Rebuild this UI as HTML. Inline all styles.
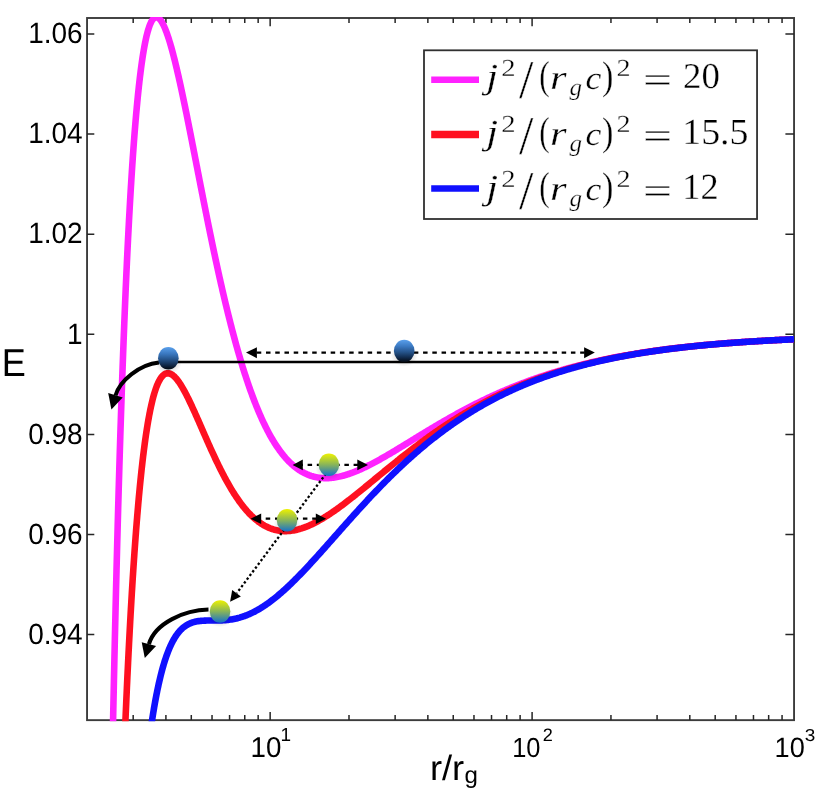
<!DOCTYPE html>
<html><head><meta charset="utf-8"><title>Effective potential</title>
<style>
html,body{margin:0;padding:0;background:#fff;}
svg{display:block;}
text{text-rendering:geometricPrecision;fill:#000;}
.lg{stroke:#fff;stroke-width:0.3px;}
</style></head><body>
<svg width="830" height="805" viewBox="0 0 830 805">
<defs>
<clipPath id="ax"><rect x="86.05" y="17.00" width="708.00" height="704.25"/></clipPath>
<linearGradient id="gb" x1="0" y1="0" x2="0" y2="1">
<stop offset="0" stop-color="#5aa0ec"/><stop offset="0.3" stop-color="#3a78c0"/><stop offset="0.55" stop-color="#25538a"/><stop offset="0.8" stop-color="#10294a"/><stop offset="1" stop-color="#03080f"/>
</linearGradient>
<linearGradient id="gg" x1="0" y1="0" x2="0" y2="1">
<stop offset="0" stop-color="#eef200"/><stop offset="0.5" stop-color="#88b45a"/><stop offset="1" stop-color="#1470cc"/>
</linearGradient>
<radialGradient id="sh" cx="0.5" cy="0.5" r="0.5">
<stop offset="0" stop-color="#000" stop-opacity="0.28"/><stop offset="1" stop-color="#000" stop-opacity="0"/>
</radialGradient>
</defs>
<rect width="830" height="805" fill="#fff"/>

<rect x="87.05" y="18.00" width="707.00" height="702.15" fill="none" stroke="#3c3c3c" stroke-width="1.9"/>
<path d="M133.18 720.1V715.1M133.18 18.0V23.0M165.91 720.1V715.1M165.91 18.0V23.0M191.29 720.1V715.1M191.29 18.0V23.0M212.03 720.1V715.1M212.03 18.0V23.0M229.57 720.1V715.1M229.57 18.0V23.0M244.76 720.1V715.1M244.76 18.0V23.0M258.16 720.1V715.1M258.16 18.0V23.0M349.00 720.1V715.1M349.00 18.0V23.0M395.13 720.1V715.1M395.13 18.0V23.0M427.86 720.1V715.1M427.86 18.0V23.0M453.24 720.1V715.1M453.24 18.0V23.0M473.98 720.1V715.1M473.98 18.0V23.0M491.52 720.1V715.1M491.52 18.0V23.0M506.71 720.1V715.1M506.71 18.0V23.0M520.11 720.1V715.1M520.11 18.0V23.0M610.95 720.1V715.1M610.95 18.0V23.0M657.08 720.1V715.1M657.08 18.0V23.0M689.81 720.1V715.1M689.81 18.0V23.0M715.19 720.1V715.1M715.19 18.0V23.0M735.94 720.1V715.1M735.94 18.0V23.0M753.47 720.1V715.1M753.47 18.0V23.0M768.66 720.1V715.1M768.66 18.0V23.0M782.06 720.1V715.1M782.06 18.0V23.0M270.15 720.1V711.9M270.15 18.0V26.2M532.10 720.1V711.9M532.10 18.0V26.2M87.0 634.60H94.3M794.0 634.60H785.4M87.0 534.50H94.3M794.0 534.50H785.4M87.0 434.40H94.3M794.0 434.40H785.4M87.0 334.30H94.3M794.0 334.30H785.4M87.0 234.20H94.3M794.0 234.20H785.4M87.0 134.10H94.3M794.0 134.10H785.4M87.0 34.00H94.3M794.0 34.00H785.4" stroke="#262626" stroke-width="1.5" fill="none"/>
<g clip-path="url(#ax)" fill="none" stroke-width="6.6" stroke-linejoin="round" stroke-linecap="butt">
<path d="M112.51 748.57 L112.74 736.93 L112.98 725.45 L113.21 714.12 L113.45 702.95 L113.69 691.92 L113.92 681.05 L114.16 670.32 L114.39 659.73 L114.63 649.29 L114.86 638.98 L115.10 628.82 L115.34 618.79 L115.57 608.89 L115.81 599.13 L116.04 589.50 L116.28 579.99 L116.51 570.62 L116.75 561.37 L116.99 552.24 L117.22 543.24 L117.46 534.36 L117.69 525.59 L117.93 516.95 L118.16 508.42 L118.40 500.01 L118.63 491.71 L118.87 483.52 L119.11 475.44 L119.34 467.48 L119.58 459.62 L119.81 451.86 L120.05 444.21 L120.28 436.67 L120.52 429.23 L120.76 421.89 L120.99 414.65 L121.23 407.51 L121.46 400.47 L121.70 393.52 L121.93 386.67 L122.17 379.92 L122.41 373.26 L122.64 366.69 L122.88 360.21 L123.11 353.82 L123.35 347.52 L123.58 341.31 L123.82 335.18 L124.06 329.14 L124.29 323.19 L124.53 317.32 L124.76 311.53 L125.00 305.82 L125.23 300.20 L125.47 294.66 L125.70 289.19 L125.94 283.80 L126.18 278.50 L126.41 273.26 L126.65 268.11 L126.88 263.02 L127.12 258.02 L127.35 253.08 L127.59 248.22 L127.83 243.43 L128.06 238.71 L128.30 234.06 L128.53 229.48 L128.77 224.96 L129.00 220.52 L129.24 216.14 L129.48 211.83 L129.71 207.58 L129.95 203.40 L130.18 199.28 L130.42 195.23 L130.65 191.24 L130.89 187.31 L131.13 183.44 L131.36 179.63 L131.60 175.88 L131.83 172.20 L132.07 168.57 L132.30 164.99 L132.54 161.48 L132.77 158.02 L133.01 154.62 L133.25 151.27 L133.48 147.98 L133.72 144.74 L133.95 141.56 L134.19 138.43 L134.42 135.35 L134.66 132.33 L134.90 129.35 L135.13 126.43 L135.37 123.56 L135.60 120.74 L135.84 117.96 L136.07 115.24 L136.31 112.56 L136.55 109.93 L136.78 107.35 L137.02 104.82 L137.25 102.33 L137.49 99.89 L137.72 97.49 L137.96 95.14 L138.19 92.83 L138.43 90.56 L138.67 88.34 L138.90 86.16 L139.14 84.03 L139.37 81.93 L139.61 79.88 L139.84 77.87 L140.08 75.90 L140.32 73.97 L140.55 72.08 L140.79 70.23 L141.02 68.41 L141.26 66.64 L141.49 64.91 L141.73 63.21 L141.97 61.55 L142.20 59.92 L142.44 58.34 L142.67 56.79 L142.91 55.27 L143.14 53.79 L143.38 52.35 L143.62 50.94 L143.85 49.56 L144.09 48.22 L144.32 46.91 L144.56 45.63 L144.79 44.39 L145.03 43.18 L145.26 42.00 L145.50 40.86 L145.74 39.74 L145.97 38.66 L146.21 37.61 L146.44 36.58 L146.68 35.59 L147.15 33.70 L147.62 31.92 L148.09 30.25 L148.56 28.70 L149.04 27.25 L149.51 25.92 L149.98 24.68 L150.45 23.55 L150.92 22.52 L151.39 21.59 L152.10 20.37 L152.81 19.36 L153.51 18.55 L154.46 17.77 L155.40 17.32 L156.58 17.20 L157.76 17.55 L158.70 18.14 L159.64 19.01 L160.35 19.82 L161.05 20.78 L161.76 21.87 L162.47 23.09 L163.18 24.43 L163.65 25.39 L164.12 26.40 L164.59 27.47 L165.06 28.58 L165.53 29.74 L166.00 30.95 L166.47 32.20 L166.95 33.50 L167.42 34.84 L167.89 36.23 L168.36 37.65 L168.83 39.12 L169.30 40.62 L169.77 42.16 L170.25 43.74 L170.72 45.35 L171.19 47.00 L171.66 48.68 L172.13 50.40 L172.60 52.14 L173.07 53.92 L173.54 55.72 L174.02 57.56 L174.49 59.42 L174.96 61.31 L175.43 63.23 L175.90 65.17 L176.14 66.15 L176.37 67.14 L176.61 68.13 L176.84 69.13 L177.08 70.13 L177.32 71.14 L177.55 72.16 L177.79 73.18 L178.02 74.20 L178.26 75.23 L178.49 76.27 L178.73 77.31 L178.96 78.36 L179.20 79.41 L179.44 80.46 L179.67 81.53 L179.91 82.59 L180.14 83.66 L180.38 84.73 L180.61 85.81 L180.85 86.90 L181.09 87.98 L181.32 89.07 L181.56 90.17 L181.79 91.27 L182.03 92.37 L182.26 93.48 L182.50 94.59 L182.74 95.70 L182.97 96.82 L183.21 97.94 L183.44 99.06 L183.68 100.19 L183.91 101.32 L184.15 102.46 L184.39 103.59 L184.62 104.73 L184.86 105.88 L185.09 107.02 L185.33 108.17 L185.56 109.32 L185.80 110.48 L186.03 111.63 L186.27 112.79 L186.51 113.95 L186.74 115.12 L186.98 116.28 L187.21 117.45 L187.45 118.62 L187.68 119.79 L187.92 120.97 L188.16 122.14 L188.39 123.32 L188.63 124.50 L188.86 125.68 L189.10 126.87 L189.33 128.05 L189.57 129.24 L189.81 130.43 L190.04 131.62 L190.28 132.81 L190.51 134.00 L190.75 135.20 L190.98 136.39 L191.22 137.59 L191.46 138.79 L191.69 139.98 L191.93 141.18 L192.16 142.38 L192.40 143.58 L192.63 144.79 L192.87 145.99 L193.10 147.19 L193.34 148.40 L193.58 149.60 L193.81 150.81 L194.05 152.02 L194.28 153.22 L194.52 154.43 L194.75 155.64 L194.99 156.84 L195.23 158.05 L195.46 159.26 L195.70 160.47 L195.93 161.68 L196.17 162.89 L196.40 164.10 L196.64 165.30 L196.88 166.51 L197.11 167.72 L197.35 168.93 L197.58 170.14 L197.82 171.35 L198.05 172.56 L198.29 173.76 L198.53 174.97 L198.76 176.18 L199.00 177.38 L199.23 178.59 L199.47 179.80 L199.70 181.00 L199.94 182.21 L200.17 183.41 L200.41 184.61 L200.65 185.82 L200.88 187.02 L201.12 188.22 L201.35 189.42 L201.59 190.62 L201.82 191.82 L202.06 193.02 L202.30 194.21 L202.53 195.41 L202.77 196.60 L203.00 197.80 L203.24 198.99 L203.47 200.18 L203.71 201.37 L203.95 202.56 L204.18 203.75 L204.42 204.94 L204.65 206.12 L204.89 207.31 L205.12 208.49 L205.36 209.67 L205.60 210.85 L205.83 212.03 L206.07 213.21 L206.30 214.38 L206.54 215.56 L206.77 216.73 L207.01 217.90 L207.24 219.07 L207.48 220.24 L207.72 221.41 L207.95 222.57 L208.19 223.74 L208.42 224.90 L208.66 226.06 L208.89 227.22 L209.13 228.37 L209.37 229.53 L209.60 230.68 L209.84 231.83 L210.07 232.98 L210.31 234.13 L210.54 235.27 L210.78 236.41 L211.02 237.55 L211.25 238.69 L211.49 239.83 L211.72 240.97 L211.96 242.10 L212.19 243.23 L212.43 244.36 L212.67 245.48 L212.90 246.61 L213.14 247.73 L213.37 248.85 L213.61 249.97 L213.84 251.09 L214.08 252.20 L214.31 253.31 L214.55 254.42 L214.79 255.53 L215.02 256.63 L215.26 257.73 L215.49 258.83 L215.73 259.93 L215.96 261.02 L216.20 262.12 L216.44 263.21 L216.67 264.29 L216.91 265.38 L217.14 266.46 L217.38 267.54 L217.61 268.62 L217.85 269.69 L218.09 270.77 L218.32 271.84 L218.56 272.90 L218.79 273.97 L219.03 275.03 L219.26 276.09 L219.50 277.15 L219.73 278.20 L219.97 279.26 L220.21 280.30 L220.44 281.35 L220.68 282.40 L220.91 283.44 L221.15 284.47 L221.38 285.51 L221.62 286.54 L221.86 287.57 L222.09 288.60 L222.33 289.63 L222.56 290.65 L222.80 291.67 L223.03 292.68 L223.27 293.70 L223.51 294.71 L223.74 295.72 L223.98 296.72 L224.21 297.73 L224.45 298.73 L224.68 299.72 L224.92 300.72 L225.16 301.71 L225.39 302.69 L225.63 303.68 L225.86 304.66 L226.10 305.64 L226.33 306.62 L226.57 307.59 L227.04 309.53 L227.51 311.46 L227.98 313.37 L228.45 315.28 L228.93 317.17 L229.40 319.05 L229.87 320.91 L230.34 322.77 L230.81 324.61 L231.28 326.44 L231.75 328.26 L232.23 330.07 L232.70 331.86 L233.17 333.64 L233.64 335.41 L234.11 337.17 L234.58 338.91 L235.05 340.65 L235.52 342.37 L236.00 344.07 L236.47 345.77 L236.94 347.45 L237.41 349.12 L237.88 350.78 L238.35 352.42 L238.82 354.06 L239.30 355.68 L239.77 357.29 L240.24 358.88 L240.71 360.46 L241.18 362.03 L241.65 363.59 L242.12 365.14 L242.59 366.67 L243.07 368.19 L243.54 369.70 L244.01 371.19 L244.48 372.68 L244.95 374.15 L245.42 375.61 L245.89 377.05 L246.37 378.49 L246.84 379.91 L247.31 381.32 L247.78 382.71 L248.25 384.10 L248.72 385.47 L249.19 386.83 L249.66 388.18 L250.14 389.51 L250.61 390.83 L251.08 392.14 L251.55 393.44 L252.02 394.73 L252.49 396.00 L252.96 397.27 L253.44 398.52 L253.91 399.76 L254.38 400.98 L254.85 402.20 L255.32 403.40 L255.79 404.59 L256.26 405.77 L256.73 406.94 L257.21 408.09 L257.68 409.24 L258.15 410.37 L258.62 411.49 L259.09 412.60 L259.56 413.70 L260.03 414.79 L260.50 415.86 L260.98 416.92 L261.45 417.98 L261.92 419.02 L262.39 420.05 L262.86 421.07 L263.33 422.07 L263.80 423.07 L264.28 424.06 L264.75 425.03 L265.22 425.99 L265.69 426.95 L266.16 427.89 L266.63 428.82 L267.10 429.74 L267.57 430.65 L268.05 431.55 L268.52 432.43 L269.22 433.75 L269.93 435.03 L270.64 436.30 L271.35 437.54 L272.05 438.76 L272.76 439.96 L273.47 441.13 L274.17 442.28 L274.88 443.41 L275.59 444.52 L276.29 445.60 L277.00 446.66 L277.71 447.71 L278.42 448.72 L279.12 449.72 L279.83 450.70 L280.54 451.66 L281.24 452.59 L281.95 453.51 L282.66 454.41 L283.36 455.28 L284.07 456.14 L284.78 456.97 L285.49 457.79 L286.19 458.59 L286.90 459.37 L287.61 460.12 L288.31 460.87 L289.02 461.59 L289.96 462.52 L290.91 463.42 L291.85 464.29 L292.79 465.13 L293.73 465.94 L294.68 466.72 L295.62 467.47 L296.56 468.19 L297.50 468.88 L298.45 469.54 L299.39 470.17 L300.33 470.78 L301.27 471.36 L302.22 471.91 L303.16 472.43 L304.10 472.93 L305.05 473.40 L305.99 473.85 L306.93 474.28 L307.87 474.67 L308.82 475.05 L309.76 475.40 L310.94 475.81 L312.12 476.18 L313.29 476.52 L314.47 476.82 L315.65 477.09 L316.83 477.33 L318.01 477.54 L319.19 477.71 L320.36 477.86 L321.54 477.97 L322.72 478.06 L323.90 478.12 L325.08 478.15 L326.26 478.16 L327.43 478.14 L328.61 478.09 L329.79 478.02 L330.97 477.93 L332.15 477.81 L333.33 477.67 L334.50 477.50 L335.68 477.32 L336.86 477.11 L338.04 476.88 L339.22 476.64 L340.40 476.37 L341.57 476.08 L342.75 475.78 L343.93 475.46 L345.11 475.12 L346.29 474.76 L347.47 474.39 L348.64 474.00 L349.82 473.60 L351.00 473.18 L351.94 472.84 L352.89 472.49 L353.83 472.12 L354.77 471.75 L355.71 471.37 L356.66 470.99 L357.60 470.59 L358.54 470.19 L359.48 469.78 L360.43 469.36 L361.37 468.94 L362.31 468.51 L363.25 468.07 L364.20 467.63 L365.14 467.18 L366.08 466.72 L367.03 466.26 L367.97 465.79 L368.91 465.32 L369.85 464.84 L370.80 464.35 L371.74 463.87 L372.68 463.37 L373.62 462.87 L374.57 462.37 L375.51 461.86 L376.45 461.35 L377.39 460.84 L378.34 460.32 L379.28 459.80 L380.22 459.27 L381.17 458.74 L382.11 458.21 L383.05 457.67 L383.99 457.13 L384.94 456.59 L385.88 456.05 L386.82 455.50 L387.76 454.95 L388.71 454.40 L389.65 453.84 L390.59 453.29 L391.53 452.73 L392.48 452.17 L393.42 451.60 L394.36 451.04 L395.31 450.47 L396.25 449.91 L397.19 449.34 L398.13 448.77 L399.08 448.20 L400.02 447.63 L400.96 447.05 L401.90 446.48 L402.85 445.90 L403.79 445.33 L404.73 444.75 L405.67 444.18 L406.62 443.60 L407.56 443.02 L408.50 442.44 L409.45 441.87 L410.39 441.29 L411.33 440.71 L412.27 440.13 L413.22 439.55 L414.16 438.98 L415.10 438.40 L416.04 437.82 L416.99 437.24 L417.93 436.67 L418.87 436.09 L419.81 435.52 L420.76 434.94 L421.70 434.37 L422.64 433.79 L423.58 433.22 L424.53 432.65 L425.47 432.08 L426.41 431.51 L427.36 430.94 L428.30 430.37 L429.24 429.80 L430.18 429.24 L431.13 428.67 L432.07 428.11 L433.01 427.54 L433.95 426.98 L434.90 426.42 L435.84 425.87 L436.78 425.31 L437.72 424.75 L438.67 424.20 L439.61 423.65 L440.55 423.10 L441.50 422.55 L442.44 422.00 L443.38 421.45 L444.32 420.91 L445.27 420.36 L446.21 419.82 L447.15 419.28 L448.09 418.75 L449.04 418.21 L449.98 417.68 L450.92 417.15 L451.86 416.62 L452.81 416.09 L453.75 415.56 L454.69 415.04 L455.64 414.52 L456.58 414.00 L457.52 413.48 L458.46 412.96 L459.41 412.45 L460.35 411.94 L461.29 411.43 L462.23 410.92 L463.18 410.41 L464.12 409.91 L465.06 409.41 L466.00 408.91 L466.95 408.41 L467.89 407.92 L468.83 407.43 L469.78 406.94 L470.72 406.45 L471.66 405.96 L472.60 405.48 L473.55 405.00 L474.49 404.52 L475.43 404.04 L476.37 403.57 L477.32 403.09 L478.26 402.62 L479.20 402.16 L480.14 401.69 L481.09 401.23 L482.03 400.77 L482.97 400.31 L483.92 399.85 L484.86 399.40 L485.80 398.95 L486.74 398.50 L487.69 398.05 L488.63 397.61 L489.57 397.17 L490.51 396.73 L491.46 396.29 L492.40 395.86 L493.34 395.42 L494.28 394.99 L495.23 394.57 L496.17 394.14 L497.11 393.72 L498.06 393.30 L499.00 392.88 L499.94 392.46 L500.88 392.05 L501.83 391.64 L502.77 391.23 L503.71 390.82 L504.65 390.42 L505.60 390.02 L506.54 389.62 L507.48 389.22 L508.42 388.82 L509.37 388.43 L510.31 388.04 L511.25 387.65 L512.19 387.27 L513.14 386.88 L514.08 386.50 L515.02 386.12 L515.97 385.75 L516.91 385.37 L517.85 385.00 L518.79 384.63 L519.74 384.26 L520.68 383.90 L521.62 383.54 L522.56 383.17 L523.51 382.82 L524.45 382.46 L525.39 382.11 L526.33 381.75 L527.28 381.40 L528.22 381.06 L529.16 380.71 L530.11 380.37 L531.05 380.03 L531.99 379.69 L532.93 379.35 L533.88 379.02 L535.05 378.60 L536.23 378.19 L537.41 377.78 L538.59 377.38 L539.77 376.98 L540.95 376.58 L542.12 376.18 L543.30 375.79 L544.48 375.40 L545.66 375.02 L546.84 374.64 L548.02 374.26 L549.19 373.88 L550.37 373.51 L551.55 373.14 L552.73 372.77 L553.91 372.41 L555.09 372.05 L556.26 371.69 L557.44 371.34 L558.62 370.99 L559.80 370.64 L560.98 370.29 L562.16 369.95 L563.33 369.61 L564.51 369.28 L565.69 368.94 L566.87 368.61 L568.05 368.28 L569.23 367.96 L570.40 367.64 L571.58 367.32 L572.76 367.00 L573.94 366.69 L575.12 366.38 L576.30 366.07 L577.47 365.76 L578.65 365.46 L579.83 365.16 L581.01 364.86 L582.19 364.57 L583.37 364.28 L584.54 363.99 L585.72 363.70 L586.90 363.42 L588.08 363.13 L589.26 362.85 L590.44 362.58 L591.61 362.30 L592.79 362.03 L593.97 361.76 L595.15 361.50 L596.33 361.23 L597.51 360.97 L598.68 360.71 L599.86 360.45 L601.04 360.20 L602.22 359.94 L603.40 359.69 L604.58 359.45 L605.75 359.20 L606.93 358.96 L608.11 358.72 L609.29 358.48 L610.47 358.24 L611.65 358.01 L612.82 357.77 L614.00 357.54 L615.18 357.31 L616.36 357.09 L617.54 356.86 L618.72 356.64 L619.89 356.42 L621.07 356.21 L622.25 355.99 L623.43 355.78 L624.61 355.56 L625.79 355.35 L626.96 355.15 L628.14 354.94 L629.32 354.74 L630.50 354.54 L631.68 354.34 L632.86 354.14 L634.03 353.94 L635.21 353.75 L636.39 353.55 L637.57 353.36 L638.75 353.17 L639.93 352.99 L641.10 352.80 L642.28 352.62 L643.46 352.44 L644.64 352.26 L645.82 352.08 L647.00 351.90 L648.17 351.73 L649.35 351.55 L650.53 351.38 L651.71 351.21 L652.89 351.04 L654.07 350.88 L655.24 350.71 L656.42 350.55 L657.60 350.39 L658.78 350.23 L659.96 350.07 L661.14 349.91 L662.31 349.75 L663.49 349.60 L664.67 349.45 L665.85 349.29 L667.03 349.14 L668.21 349.00 L669.38 348.85 L670.56 348.70 L671.74 348.56 L672.92 348.42 L674.10 348.28 L675.27 348.14 L676.45 348.00 L677.63 347.86 L678.81 347.72 L679.99 347.59 L681.17 347.46 L682.34 347.32 L683.52 347.19 L684.70 347.06 L685.88 346.93 L687.06 346.81 L688.24 346.68 L689.41 346.56 L690.59 346.43 L691.77 346.31 L692.95 346.19 L694.13 346.07 L695.31 345.95 L696.48 345.84 L697.66 345.72 L698.84 345.60 L700.02 345.49 L701.20 345.38 L702.38 345.27 L703.55 345.16 L704.73 345.05 L705.91 344.94 L707.09 344.83 L708.27 344.72 L709.45 344.62 L710.62 344.51 L711.80 344.41 L712.98 344.31 L714.16 344.21 L715.34 344.11 L716.52 344.01 L717.69 343.91 L718.87 343.81 L720.05 343.72 L721.23 343.62 L722.41 343.53 L723.59 343.43 L724.76 343.34 L725.94 343.25 L727.12 343.16 L728.30 343.07 L729.48 342.98 L730.66 342.89 L731.83 342.81 L733.01 342.72 L734.19 342.63 L735.37 342.55 L736.55 342.47 L737.73 342.38 L738.90 342.30 L740.08 342.22 L741.26 342.14 L742.44 342.06 L743.62 341.98 L744.80 341.90 L745.97 341.83 L747.15 341.75 L748.33 341.67 L749.51 341.60 L750.69 341.53 L751.87 341.45 L753.04 341.38 L754.22 341.31 L755.40 341.24 L756.58 341.17 L757.76 341.10 L758.94 341.03 L760.11 340.96 L761.29 340.89 L762.47 340.82 L763.65 340.76 L764.83 340.69 L766.01 340.63 L767.18 340.56 L768.36 340.50 L769.54 340.44 L770.72 340.37 L771.90 340.31 L773.08 340.25 L774.25 340.19 L775.43 340.13 L776.61 340.07 L777.79 340.01 L778.97 339.95 L780.15 339.90 L781.32 339.84 L782.50 339.78 L783.68 339.73 L784.86 339.67 L786.04 339.62 L787.22 339.56 L788.39 339.51 L789.57 339.45 L790.75 339.40 L791.93 339.35 L793.11 339.30 L794.05 339.26" stroke="#ff22ff"/>
<path d="M124.29 748.71 L124.53 742.82 L124.76 737.01 L125.00 731.27 L125.23 725.60 L125.47 720.01 L125.70 714.48 L125.94 709.03 L126.18 703.64 L126.41 698.32 L126.65 693.07 L126.88 687.89 L127.12 682.77 L127.35 677.72 L127.59 672.73 L127.83 667.80 L128.06 662.94 L128.30 658.14 L128.53 653.40 L128.77 648.72 L129.00 644.11 L129.24 639.55 L129.48 635.05 L129.71 630.61 L129.95 626.23 L130.18 621.90 L130.42 617.63 L130.65 613.42 L130.89 609.26 L131.13 605.16 L131.36 601.11 L131.60 597.11 L131.83 593.17 L132.07 589.28 L132.30 585.44 L132.54 581.65 L132.77 577.91 L133.01 574.23 L133.25 570.59 L133.48 567.00 L133.72 563.46 L133.95 559.96 L134.19 556.52 L134.42 553.12 L134.66 549.77 L134.90 546.46 L135.13 543.20 L135.37 539.98 L135.60 536.81 L135.84 533.68 L136.07 530.60 L136.31 527.56 L136.55 524.56 L136.78 521.60 L137.02 518.69 L137.25 515.82 L137.49 512.98 L137.72 510.19 L137.96 507.44 L138.19 504.72 L138.43 502.05 L138.67 499.42 L138.90 496.82 L139.14 494.26 L139.37 491.74 L139.61 489.25 L139.84 486.81 L140.08 484.40 L140.32 482.02 L140.55 479.68 L140.79 477.38 L141.02 475.11 L141.26 472.87 L141.49 470.67 L141.73 468.50 L141.97 466.37 L142.20 464.27 L142.44 462.20 L142.67 460.16 L142.91 458.16 L143.14 456.19 L143.38 454.25 L143.62 452.34 L143.85 450.46 L144.09 448.61 L144.32 446.79 L144.56 445.00 L144.79 443.24 L145.03 441.51 L145.26 439.80 L145.50 438.13 L145.74 436.49 L145.97 434.87 L146.21 433.28 L146.44 431.72 L146.68 430.18 L146.91 428.67 L147.15 427.19 L147.39 425.73 L147.62 424.30 L147.86 422.90 L148.09 421.52 L148.33 420.16 L148.56 418.83 L148.80 417.53 L149.04 416.24 L149.27 414.99 L149.51 413.75 L149.74 412.54 L149.98 411.36 L150.21 410.19 L150.45 409.05 L150.69 407.94 L150.92 406.84 L151.16 405.77 L151.39 404.71 L151.63 403.68 L151.86 402.67 L152.10 401.68 L152.57 399.77 L153.04 397.94 L153.51 396.19 L153.98 394.51 L154.46 392.91 L154.93 391.39 L155.40 389.94 L155.87 388.56 L156.34 387.25 L156.81 386.01 L157.28 384.84 L157.76 383.73 L158.23 382.69 L158.70 381.71 L159.17 380.79 L159.88 379.52 L160.58 378.38 L161.29 377.37 L162.00 376.48 L162.70 375.70 L163.65 374.85 L164.59 374.18 L165.53 373.70 L166.71 373.34 L167.89 373.23 L169.07 373.37 L170.25 373.73 L171.19 374.17 L172.13 374.74 L173.07 375.43 L174.02 376.23 L174.96 377.14 L175.67 377.90 L176.37 378.70 L177.08 379.56 L177.79 380.48 L178.49 381.43 L179.20 382.44 L179.91 383.49 L180.61 384.58 L181.32 385.71 L182.03 386.88 L182.74 388.08 L183.44 389.32 L184.15 390.59 L184.86 391.89 L185.33 392.78 L185.80 393.67 L186.27 394.58 L186.74 395.50 L187.21 396.43 L187.68 397.37 L188.16 398.32 L188.63 399.28 L189.10 400.25 L189.57 401.23 L190.04 402.22 L190.51 403.21 L190.98 404.21 L191.46 405.22 L191.93 406.23 L192.40 407.26 L192.87 408.28 L193.34 409.32 L193.81 410.35 L194.28 411.40 L194.75 412.45 L195.23 413.50 L195.70 414.55 L196.17 415.61 L196.64 416.68 L197.11 417.74 L197.58 418.81 L198.05 419.88 L198.53 420.95 L199.00 422.03 L199.47 423.10 L199.94 424.18 L200.41 425.26 L200.88 426.34 L201.35 427.42 L201.82 428.50 L202.30 429.58 L202.77 430.66 L203.24 431.74 L203.71 432.82 L204.18 433.89 L204.65 434.97 L205.12 436.05 L205.60 437.12 L206.07 438.19 L206.54 439.26 L207.01 440.33 L207.48 441.39 L207.95 442.46 L208.42 443.52 L208.89 444.57 L209.37 445.63 L209.84 446.68 L210.31 447.73 L210.78 448.77 L211.25 449.81 L211.72 450.85 L212.19 451.88 L212.67 452.91 L213.14 453.93 L213.61 454.95 L214.08 455.97 L214.55 456.98 L215.02 457.99 L215.49 458.99 L215.96 459.98 L216.44 460.98 L216.91 461.96 L217.38 462.94 L217.85 463.92 L218.32 464.89 L218.79 465.85 L219.26 466.81 L219.73 467.76 L220.21 468.71 L220.68 469.65 L221.15 470.58 L221.62 471.51 L222.09 472.43 L222.56 473.35 L223.03 474.26 L223.51 475.16 L223.98 476.06 L224.45 476.95 L224.92 477.83 L225.63 479.14 L226.33 480.44 L227.04 481.72 L227.75 482.98 L228.45 484.23 L229.16 485.47 L229.87 486.68 L230.58 487.88 L231.28 489.07 L231.99 490.24 L232.70 491.39 L233.40 492.52 L234.11 493.64 L234.82 494.74 L235.52 495.82 L236.23 496.89 L236.94 497.94 L237.65 498.97 L238.35 499.99 L239.06 500.98 L239.77 501.96 L240.47 502.93 L241.18 503.87 L241.89 504.80 L242.59 505.71 L243.30 506.61 L244.01 507.48 L244.72 508.34 L245.42 509.19 L246.13 510.01 L246.84 510.82 L247.54 511.61 L248.25 512.38 L248.96 513.14 L249.66 513.88 L250.37 514.60 L251.31 515.54 L252.26 516.44 L253.20 517.32 L254.14 518.17 L255.08 518.99 L256.03 519.78 L256.97 520.53 L257.91 521.27 L258.86 521.97 L259.80 522.64 L260.74 523.29 L261.68 523.91 L262.63 524.50 L263.57 525.06 L264.51 525.60 L265.45 526.10 L266.40 526.59 L267.34 527.04 L268.28 527.47 L269.22 527.88 L270.17 528.26 L271.11 528.61 L272.29 529.02 L273.47 529.39 L274.64 529.72 L275.82 530.01 L277.00 530.27 L278.18 530.49 L279.36 530.68 L280.54 530.83 L281.71 530.95 L282.89 531.03 L284.07 531.08 L285.25 531.10 L286.43 531.09 L287.61 531.05 L288.78 530.97 L289.96 530.87 L291.14 530.74 L292.32 530.58 L293.50 530.39 L294.68 530.17 L295.85 529.93 L297.03 529.66 L298.21 529.37 L299.39 529.05 L300.57 528.70 L301.75 528.34 L302.92 527.95 L304.10 527.53 L305.05 527.19 L305.99 526.83 L306.93 526.45 L307.87 526.07 L308.82 525.67 L309.76 525.26 L310.70 524.83 L311.64 524.39 L312.59 523.94 L313.53 523.48 L314.47 523.01 L315.41 522.53 L316.36 522.04 L317.30 521.53 L318.24 521.02 L319.19 520.49 L320.13 519.96 L321.07 519.42 L322.01 518.86 L322.96 518.30 L323.90 517.73 L324.84 517.15 L325.78 516.56 L326.73 515.97 L327.67 515.36 L328.61 514.75 L329.55 514.13 L330.50 513.50 L331.44 512.87 L332.38 512.23 L333.33 511.58 L334.27 510.93 L335.21 510.27 L336.15 509.60 L337.10 508.93 L338.04 508.25 L338.98 507.57 L339.92 506.88 L340.87 506.19 L341.81 505.49 L342.75 504.79 L343.69 504.08 L344.64 503.37 L345.58 502.65 L346.52 501.93 L347.47 501.21 L348.41 500.48 L349.35 499.75 L350.29 499.01 L351.24 498.27 L352.18 497.53 L353.12 496.79 L354.06 496.04 L355.01 495.29 L355.95 494.54 L356.89 493.79 L357.83 493.03 L358.78 492.27 L359.72 491.51 L360.66 490.75 L361.61 489.98 L362.55 489.22 L363.49 488.45 L364.43 487.68 L365.38 486.91 L366.32 486.14 L367.26 485.37 L368.20 484.59 L369.15 483.82 L370.09 483.05 L371.03 482.27 L371.97 481.50 L372.92 480.72 L373.86 479.94 L374.80 479.17 L375.75 478.39 L376.69 477.62 L377.63 476.84 L378.57 476.06 L379.52 475.29 L380.46 474.51 L381.40 473.74 L382.34 472.96 L383.29 472.19 L384.23 471.42 L385.17 470.64 L386.11 469.87 L387.06 469.10 L388.00 468.33 L388.94 467.56 L389.88 466.80 L390.83 466.03 L391.77 465.27 L392.71 464.50 L393.66 463.74 L394.60 462.98 L395.54 462.22 L396.48 461.46 L397.43 460.71 L398.37 459.95 L399.31 459.20 L400.25 458.45 L401.20 457.70 L402.14 456.95 L403.08 456.21 L404.02 455.46 L404.97 454.72 L405.91 453.99 L406.85 453.25 L407.80 452.51 L408.74 451.78 L409.68 451.05 L410.62 450.32 L411.57 449.60 L412.51 448.87 L413.45 448.15 L414.39 447.43 L415.34 446.72 L416.28 446.01 L417.22 445.29 L418.16 444.59 L419.11 443.88 L420.05 443.18 L420.99 442.48 L421.94 441.78 L422.88 441.08 L423.82 440.39 L424.76 439.70 L425.71 439.01 L426.65 438.33 L427.59 437.65 L428.53 436.97 L429.48 436.29 L430.42 435.62 L431.36 434.95 L432.30 434.28 L433.25 433.62 L434.19 432.96 L435.13 432.30 L436.08 431.65 L437.02 430.99 L437.96 430.34 L438.90 429.70 L439.85 429.05 L440.79 428.41 L441.73 427.78 L442.67 427.14 L443.62 426.51 L444.56 425.88 L445.50 425.26 L446.44 424.64 L447.39 424.02 L448.33 423.40 L449.27 422.79 L450.22 422.18 L451.16 421.57 L452.10 420.97 L453.04 420.37 L453.99 419.77 L454.93 419.18 L455.87 418.59 L456.81 418.00 L457.76 417.42 L458.70 416.83 L459.64 416.26 L460.58 415.68 L461.53 415.11 L462.47 414.54 L463.41 413.97 L464.35 413.41 L465.30 412.85 L466.24 412.29 L467.18 411.74 L468.13 411.19 L469.07 410.64 L470.01 410.10 L470.95 409.56 L471.90 409.02 L472.84 408.49 L473.78 407.96 L474.72 407.43 L475.67 406.90 L476.61 406.38 L477.55 405.86 L478.49 405.34 L479.44 404.83 L480.38 404.32 L481.32 403.81 L482.27 403.31 L483.21 402.81 L484.15 402.31 L485.09 401.82 L486.04 401.32 L486.98 400.84 L487.92 400.35 L488.86 399.87 L489.81 399.39 L490.75 398.91 L491.69 398.44 L492.63 397.97 L493.58 397.50 L494.52 397.03 L495.46 396.57 L496.41 396.11 L497.35 395.65 L498.29 395.20 L499.23 394.75 L500.18 394.30 L501.12 393.86 L502.06 393.42 L503.00 392.98 L503.95 392.54 L504.89 392.11 L505.83 391.68 L506.77 391.25 L507.72 390.82 L508.66 390.40 L509.60 389.98 L510.55 389.57 L511.49 389.15 L512.43 388.74 L513.37 388.33 L514.32 387.93 L515.26 387.52 L516.20 387.12 L517.14 386.73 L518.09 386.33 L519.03 385.94 L519.97 385.55 L520.91 385.16 L521.86 384.78 L522.80 384.39 L523.74 384.02 L524.69 383.64 L525.63 383.26 L526.57 382.89 L527.51 382.52 L528.46 382.16 L529.40 381.79 L530.34 381.43 L531.28 381.07 L532.23 380.72 L533.17 380.36 L534.11 380.01 L535.05 379.66 L536.00 379.31 L536.94 378.97 L537.88 378.63 L538.83 378.29 L539.77 377.95 L540.71 377.62 L541.89 377.20 L543.07 376.79 L544.25 376.38 L545.42 375.98 L546.60 375.58 L547.78 375.18 L548.96 374.79 L550.14 374.40 L551.32 374.01 L552.49 373.63 L553.67 373.25 L554.85 372.87 L556.03 372.50 L557.21 372.13 L558.39 371.76 L559.56 371.40 L560.74 371.04 L561.92 370.68 L563.10 370.33 L564.28 369.98 L565.46 369.63 L566.63 369.29 L567.81 368.95 L568.99 368.61 L570.17 368.27 L571.35 367.94 L572.53 367.61 L573.70 367.29 L574.88 366.97 L576.06 366.65 L577.24 366.33 L578.42 366.02 L579.60 365.71 L580.77 365.40 L581.95 365.09 L583.13 364.79 L584.31 364.49 L585.49 364.19 L586.67 363.90 L587.84 363.61 L589.02 363.32 L590.20 363.04 L591.38 362.75 L592.56 362.47 L593.73 362.19 L594.91 361.92 L596.09 361.65 L597.27 361.38 L598.45 361.11 L599.63 360.84 L600.80 360.58 L601.98 360.32 L603.16 360.07 L604.34 359.81 L605.52 359.56 L606.70 359.31 L607.87 359.06 L609.05 358.81 L610.23 358.57 L611.41 358.33 L612.59 358.09 L613.77 357.86 L614.94 357.62 L616.12 357.39 L617.30 357.16 L618.48 356.93 L619.66 356.71 L620.84 356.48 L622.01 356.26 L623.19 356.04 L624.37 355.83 L625.55 355.61 L626.73 355.40 L627.91 355.19 L629.08 354.98 L630.26 354.78 L631.44 354.57 L632.62 354.37 L633.80 354.17 L634.98 353.97 L636.15 353.77 L637.33 353.58 L638.51 353.39 L639.69 353.19 L640.87 353.00 L642.05 352.82 L643.22 352.63 L644.40 352.45 L645.58 352.27 L646.76 352.09 L647.94 351.91 L649.12 351.73 L650.29 351.56 L651.47 351.38 L652.65 351.21 L653.83 351.04 L655.01 350.87 L656.19 350.71 L657.36 350.54 L658.54 350.38 L659.72 350.22 L660.90 350.06 L662.08 349.90 L663.26 349.74 L664.43 349.59 L665.61 349.43 L666.79 349.28 L667.97 349.13 L669.15 348.98 L670.33 348.83 L671.50 348.68 L672.68 348.54 L673.86 348.40 L675.04 348.25 L676.22 348.11 L677.40 347.97 L678.57 347.84 L679.75 347.70 L680.93 347.56 L682.11 347.43 L683.29 347.30 L684.47 347.17 L685.64 347.04 L686.82 346.91 L688.00 346.78 L689.18 346.65 L690.36 346.53 L691.54 346.40 L692.71 346.28 L693.89 346.16 L695.07 346.04 L696.25 345.92 L697.43 345.80 L698.61 345.69 L699.78 345.57 L700.96 345.46 L702.14 345.34 L703.32 345.23 L704.50 345.12 L705.68 345.01 L706.85 344.90 L708.03 344.80 L709.21 344.69 L710.39 344.58 L711.57 344.48 L712.75 344.38 L713.92 344.27 L715.10 344.17 L716.28 344.07 L717.46 343.97 L718.64 343.88 L719.82 343.78 L720.99 343.68 L722.17 343.59 L723.35 343.49 L724.53 343.40 L725.71 343.31 L726.89 343.21 L728.06 343.12 L729.24 343.03 L730.42 342.95 L731.60 342.86 L732.78 342.77 L733.96 342.68 L735.13 342.60 L736.31 342.51 L737.49 342.43 L738.67 342.35 L739.85 342.27 L741.03 342.18 L742.20 342.10 L743.38 342.02 L744.56 341.95 L745.74 341.87 L746.92 341.79 L748.10 341.71 L749.27 341.64 L750.45 341.56 L751.63 341.49 L752.81 341.42 L753.99 341.34 L755.17 341.27 L756.34 341.20 L757.52 341.13 L758.70 341.06 L759.88 340.99 L761.06 340.92 L762.24 340.86 L763.41 340.79 L764.59 340.72 L765.77 340.66 L766.95 340.59 L768.13 340.53 L769.31 340.47 L770.48 340.40 L771.66 340.34 L772.84 340.28 L774.02 340.22 L775.20 340.16 L776.38 340.10 L777.55 340.04 L778.73 339.98 L779.91 339.92 L781.09 339.86 L782.27 339.81 L783.45 339.75 L784.62 339.69 L785.80 339.64 L786.98 339.58 L788.16 339.53 L789.34 339.48 L790.52 339.42 L791.69 339.37 L792.87 339.32 L794.05 339.27" stroke="#ff1020"/>
<path d="M148.09 748.83 L148.33 746.96 L148.56 745.11 L148.80 743.29 L149.04 741.49 L149.27 739.71 L149.51 737.95 L149.74 736.21 L149.98 734.50 L150.21 732.80 L150.45 731.13 L150.69 729.48 L150.92 727.84 L151.16 726.23 L151.39 724.64 L151.63 723.06 L151.86 721.51 L152.10 719.97 L152.33 718.46 L152.57 716.96 L152.81 715.48 L153.04 714.02 L153.28 712.58 L153.51 711.16 L153.75 709.75 L153.98 708.37 L154.22 707.00 L154.46 705.64 L154.69 704.31 L154.93 702.99 L155.16 701.69 L155.40 700.40 L155.63 699.14 L155.87 697.88 L156.11 696.65 L156.34 695.43 L156.58 694.22 L156.81 693.04 L157.05 691.86 L157.28 690.70 L157.52 689.56 L157.76 688.43 L157.99 687.32 L158.23 686.22 L158.46 685.14 L158.70 684.07 L158.93 683.02 L159.17 681.97 L159.40 680.95 L159.64 679.93 L159.88 678.93 L160.11 677.95 L160.35 676.98 L160.82 675.07 L161.29 673.21 L161.76 671.41 L162.23 669.65 L162.70 667.95 L163.18 666.29 L163.65 664.67 L164.12 663.11 L164.59 661.58 L165.06 660.10 L165.53 658.66 L166.00 657.26 L166.47 655.91 L166.95 654.59 L167.42 653.31 L167.89 652.07 L168.36 650.87 L168.83 649.70 L169.30 648.56 L169.77 647.47 L170.25 646.40 L170.72 645.37 L171.19 644.37 L171.66 643.40 L172.13 642.46 L172.60 641.55 L173.31 640.24 L174.02 639.00 L174.72 637.82 L175.43 636.69 L176.14 635.62 L176.84 634.61 L177.55 633.65 L178.26 632.74 L178.96 631.87 L179.67 631.06 L180.38 630.29 L181.09 629.56 L182.03 628.65 L182.97 627.82 L183.91 627.05 L184.86 626.34 L185.80 625.69 L186.74 625.09 L187.68 624.55 L188.63 624.06 L189.57 623.61 L190.51 623.20 L191.46 622.84 L192.63 622.44 L193.81 622.09 L194.99 621.79 L196.17 621.53 L197.35 621.31 L198.53 621.13 L199.70 620.98 L200.88 620.86 L202.06 620.77 L203.24 620.69 L204.42 620.64 L205.60 620.60 L206.77 620.57 L207.95 620.56 L209.13 620.55 L210.31 620.54 L211.49 620.54 L212.67 620.54 L213.84 620.54 L215.02 620.54 L216.20 620.53 L217.38 620.51 L218.56 620.49 L219.73 620.46 L220.91 620.42 L222.09 620.36 L223.27 620.30 L224.45 620.21 L225.63 620.12 L226.80 620.01 L227.98 619.88 L229.16 619.74 L230.34 619.57 L231.52 619.39 L232.70 619.19 L233.87 618.97 L235.05 618.73 L236.23 618.47 L237.41 618.18 L238.59 617.88 L239.77 617.56 L240.94 617.21 L242.12 616.84 L243.30 616.45 L244.48 616.04 L245.42 615.69 L246.37 615.33 L247.31 614.96 L248.25 614.57 L249.19 614.16 L250.14 613.75 L251.08 613.32 L252.02 612.87 L252.96 612.41 L253.91 611.94 L254.85 611.45 L255.79 610.95 L256.73 610.43 L257.68 609.91 L258.62 609.36 L259.56 608.81 L260.50 608.24 L261.45 607.66 L262.39 607.07 L263.33 606.46 L264.28 605.84 L265.22 605.21 L266.16 604.56 L267.10 603.91 L268.05 603.24 L268.99 602.56 L269.93 601.86 L270.87 601.16 L271.82 600.44 L272.76 599.72 L273.70 598.98 L274.64 598.23 L275.59 597.47 L276.53 596.70 L277.47 595.92 L278.42 595.13 L279.36 594.33 L280.30 593.52 L281.24 592.70 L282.19 591.87 L283.13 591.04 L284.07 590.19 L285.01 589.33 L285.96 588.47 L286.90 587.60 L287.84 586.72 L288.78 585.83 L289.73 584.93 L290.67 584.03 L291.61 583.12 L292.56 582.20 L293.50 581.27 L294.44 580.34 L295.38 579.40 L296.09 578.69 L296.80 577.98 L297.50 577.27 L298.21 576.55 L298.92 575.82 L299.63 575.10 L300.33 574.37 L301.04 573.64 L301.75 572.90 L302.45 572.17 L303.16 571.43 L303.87 570.68 L304.57 569.94 L305.28 569.19 L305.99 568.44 L306.70 567.68 L307.40 566.93 L308.11 566.17 L308.82 565.41 L309.52 564.64 L310.23 563.88 L310.94 563.11 L311.64 562.34 L312.35 561.57 L313.06 560.80 L313.77 560.02 L314.47 559.25 L315.18 558.47 L315.89 557.69 L316.59 556.91 L317.30 556.13 L318.01 555.34 L318.71 554.56 L319.42 553.77 L320.13 552.98 L320.84 552.19 L321.54 551.40 L322.25 550.61 L322.96 549.82 L323.66 549.03 L324.37 548.23 L325.08 547.44 L325.78 546.64 L326.49 545.85 L327.20 545.05 L327.91 544.25 L328.61 543.45 L329.32 542.66 L330.03 541.86 L330.73 541.06 L331.44 540.26 L332.15 539.46 L332.85 538.66 L333.56 537.86 L334.27 537.06 L334.98 536.26 L335.68 535.46 L336.39 534.66 L337.10 533.86 L337.80 533.06 L338.51 532.26 L339.22 531.46 L339.92 530.66 L340.63 529.86 L341.34 529.06 L342.04 528.27 L342.75 527.47 L343.46 526.67 L344.17 525.88 L344.87 525.08 L345.58 524.28 L346.29 523.49 L346.99 522.70 L347.70 521.90 L348.41 521.11 L349.11 520.32 L349.82 519.53 L350.53 518.74 L351.24 517.95 L351.94 517.16 L352.65 516.37 L353.36 515.59 L354.06 514.80 L354.77 514.02 L355.48 513.23 L356.18 512.45 L356.89 511.67 L357.60 510.89 L358.31 510.11 L359.01 509.34 L359.72 508.56 L360.43 507.79 L361.13 507.01 L361.84 506.24 L362.55 505.47 L363.25 504.70 L363.96 503.94 L364.67 503.17 L365.38 502.41 L366.08 501.64 L366.79 500.88 L367.50 500.12 L368.20 499.36 L368.91 498.61 L369.62 497.85 L370.32 497.10 L371.03 496.35 L371.74 495.60 L372.45 494.85 L373.15 494.10 L373.86 493.36 L374.57 492.62 L375.27 491.88 L375.98 491.14 L376.69 490.40 L377.39 489.67 L378.10 488.93 L378.81 488.20 L379.52 487.47 L380.22 486.74 L380.93 486.02 L381.64 485.29 L382.34 484.57 L383.05 483.85 L383.76 483.14 L384.46 482.42 L385.17 481.71 L385.88 481.00 L386.59 480.29 L387.29 479.58 L388.24 478.64 L389.18 477.70 L390.12 476.77 L391.06 475.84 L392.01 474.92 L392.95 474.00 L393.89 473.08 L394.83 472.17 L395.78 471.26 L396.72 470.35 L397.66 469.45 L398.60 468.56 L399.55 467.66 L400.49 466.77 L401.43 465.89 L402.38 465.01 L403.32 464.13 L404.26 463.26 L405.20 462.39 L406.15 461.52 L407.09 460.66 L408.03 459.81 L408.97 458.96 L409.92 458.11 L410.86 457.26 L411.80 456.42 L412.74 455.59 L413.69 454.76 L414.63 453.93 L415.57 453.11 L416.52 452.29 L417.46 451.47 L418.40 450.66 L419.34 449.86 L420.29 449.06 L421.23 448.26 L422.17 447.47 L423.11 446.68 L424.06 445.89 L425.00 445.11 L425.94 444.33 L426.88 443.56 L427.83 442.79 L428.77 442.03 L429.71 441.27 L430.65 440.52 L431.60 439.77 L432.54 439.02 L433.48 438.28 L434.43 437.54 L435.37 436.80 L436.31 436.07 L437.25 435.35 L438.20 434.63 L439.14 433.91 L440.08 433.19 L441.02 432.49 L441.97 431.78 L442.91 431.08 L443.85 430.38 L444.79 429.69 L445.74 429.00 L446.68 428.32 L447.62 427.64 L448.57 426.96 L449.51 426.29 L450.45 425.62 L451.39 424.96 L452.34 424.30 L453.28 423.64 L454.22 422.99 L455.16 422.34 L456.11 421.70 L457.05 421.06 L457.99 420.42 L458.93 419.79 L459.88 419.16 L460.82 418.54 L461.76 417.92 L462.71 417.30 L463.65 416.69 L464.59 416.08 L465.53 415.48 L466.48 414.88 L467.42 414.28 L468.36 413.69 L469.30 413.10 L470.25 412.51 L471.19 411.93 L472.13 411.35 L473.07 410.78 L474.02 410.21 L474.96 409.64 L475.90 409.08 L476.85 408.52 L477.79 407.97 L478.73 407.41 L479.67 406.87 L480.62 406.32 L481.56 405.78 L482.50 405.24 L483.44 404.71 L484.39 404.18 L485.33 403.65 L486.27 403.13 L487.21 402.61 L488.16 402.09 L489.10 401.58 L490.04 401.07 L490.99 400.57 L491.93 400.07 L492.87 399.57 L493.81 399.07 L494.76 398.58 L495.70 398.09 L496.64 397.61 L497.58 397.12 L498.53 396.65 L499.47 396.17 L500.41 395.70 L501.35 395.23 L502.30 394.76 L503.24 394.30 L504.18 393.84 L505.12 393.39 L506.07 392.94 L507.01 392.49 L507.95 392.04 L508.90 391.60 L509.84 391.16 L510.78 390.72 L511.72 390.29 L512.67 389.86 L513.61 389.43 L514.55 389.00 L515.49 388.58 L516.44 388.16 L517.38 387.75 L518.32 387.33 L519.26 386.92 L520.21 386.52 L521.15 386.11 L522.09 385.71 L523.04 385.31 L523.98 384.92 L524.92 384.53 L525.86 384.14 L526.81 383.75 L527.75 383.37 L528.69 382.99 L529.63 382.61 L530.58 382.23 L531.52 381.86 L532.46 381.49 L533.40 381.12 L534.35 380.76 L535.29 380.39 L536.23 380.03 L537.18 379.68 L538.12 379.32 L539.06 378.97 L540.00 378.62 L540.95 378.28 L541.89 377.93 L542.83 377.59 L543.77 377.25 L544.72 376.91 L545.66 376.58 L546.84 376.17 L548.02 375.76 L549.19 375.35 L550.37 374.95 L551.55 374.55 L552.73 374.15 L553.91 373.76 L555.09 373.37 L556.26 372.99 L557.44 372.61 L558.62 372.23 L559.80 371.86 L560.98 371.49 L562.16 371.12 L563.33 370.76 L564.51 370.40 L565.69 370.04 L566.87 369.69 L568.05 369.34 L569.23 368.99 L570.40 368.65 L571.58 368.31 L572.76 367.97 L573.94 367.64 L575.12 367.31 L576.30 366.98 L577.47 366.66 L578.65 366.34 L579.83 366.02 L581.01 365.70 L582.19 365.39 L583.37 365.08 L584.54 364.78 L585.72 364.47 L586.90 364.17 L588.08 363.88 L589.26 363.58 L590.44 363.29 L591.61 363.00 L592.79 362.72 L593.97 362.43 L595.15 362.15 L596.33 361.87 L597.51 361.60 L598.68 361.33 L599.86 361.06 L601.04 360.79 L602.22 360.52 L603.40 360.26 L604.58 360.00 L605.75 359.75 L606.93 359.49 L608.11 359.24 L609.29 358.99 L610.47 358.74 L611.65 358.50 L612.82 358.25 L614.00 358.01 L615.18 357.78 L616.36 357.54 L617.54 357.31 L618.72 357.08 L619.89 356.85 L621.07 356.62 L622.25 356.40 L623.43 356.18 L624.61 355.96 L625.79 355.74 L626.96 355.52 L628.14 355.31 L629.32 355.10 L630.50 354.89 L631.68 354.68 L632.86 354.48 L634.03 354.27 L635.21 354.07 L636.39 353.87 L637.57 353.68 L638.75 353.48 L639.93 353.29 L641.10 353.10 L642.28 352.91 L643.46 352.72 L644.64 352.53 L645.82 352.35 L647.00 352.17 L648.17 351.99 L649.35 351.81 L650.53 351.63 L651.71 351.46 L652.89 351.28 L654.07 351.11 L655.24 350.94 L656.42 350.77 L657.60 350.61 L658.78 350.44 L659.96 350.28 L661.14 350.12 L662.31 349.96 L663.49 349.80 L664.67 349.64 L665.85 349.48 L667.03 349.33 L668.21 349.18 L669.38 349.03 L670.56 348.88 L671.74 348.73 L672.92 348.58 L674.10 348.44 L675.27 348.30 L676.45 348.15 L677.63 348.01 L678.81 347.87 L679.99 347.74 L681.17 347.60 L682.34 347.47 L683.52 347.33 L684.70 347.20 L685.88 347.07 L687.06 346.94 L688.24 346.81 L689.41 346.68 L690.59 346.56 L691.77 346.43 L692.95 346.31 L694.13 346.19 L695.31 346.07 L696.48 345.95 L697.66 345.83 L698.84 345.71 L700.02 345.59 L701.20 345.48 L702.38 345.37 L703.55 345.25 L704.73 345.14 L705.91 345.03 L707.09 344.92 L708.27 344.81 L709.45 344.71 L710.62 344.60 L711.80 344.50 L712.98 344.39 L714.16 344.29 L715.34 344.19 L716.52 344.09 L717.69 343.99 L718.87 343.89 L720.05 343.79 L721.23 343.69 L722.41 343.60 L723.59 343.50 L724.76 343.41 L725.94 343.32 L727.12 343.22 L728.30 343.13 L729.48 343.04 L730.66 342.95 L731.83 342.87 L733.01 342.78 L734.19 342.69 L735.37 342.61 L736.55 342.52 L737.73 342.44 L738.90 342.35 L740.08 342.27 L741.26 342.19 L742.44 342.11 L743.62 342.03 L744.80 341.95 L745.97 341.87 L747.15 341.80 L748.33 341.72 L749.51 341.64 L750.69 341.57 L751.87 341.49 L753.04 341.42 L754.22 341.35 L755.40 341.28 L756.58 341.20 L757.76 341.13 L758.94 341.06 L760.11 340.99 L761.29 340.93 L762.47 340.86 L763.65 340.79 L764.83 340.72 L766.01 340.66 L767.18 340.59 L768.36 340.53 L769.54 340.47 L770.72 340.40 L771.90 340.34 L773.08 340.28 L774.25 340.22 L775.43 340.16 L776.61 340.10 L777.79 340.04 L778.97 339.98 L780.15 339.92 L781.32 339.86 L782.50 339.81 L783.68 339.75 L784.86 339.69 L786.04 339.64 L787.22 339.58 L788.39 339.53 L789.57 339.48 L790.75 339.42 L791.93 339.37 L793.11 339.32 L794.05 339.28" stroke="#1010ff"/>
</g>
<text font-family='"Liberation Sans",Arial,sans-serif' font-size="29.3" text-anchor="end" transform="translate(82.6 643.80) scale(0.955 1)">0.94</text>
<text font-family='"Liberation Sans",Arial,sans-serif' font-size="29.3" text-anchor="end" transform="translate(82.6 543.70) scale(0.955 1)">0.96</text>
<text font-family='"Liberation Sans",Arial,sans-serif' font-size="29.3" text-anchor="end" transform="translate(82.6 443.60) scale(0.955 1)">0.98</text>
<text font-family='"Liberation Sans",Arial,sans-serif' font-size="29.3" text-anchor="end" transform="translate(82.6 343.50) scale(0.955 1)">1</text>
<text font-family='"Liberation Sans",Arial,sans-serif' font-size="29.3" text-anchor="end" transform="translate(82.6 243.40) scale(0.955 1)">1.02</text>
<text font-family='"Liberation Sans",Arial,sans-serif' font-size="29.3" text-anchor="end" transform="translate(82.6 143.30) scale(0.955 1)">1.04</text>
<text font-family='"Liberation Sans",Arial,sans-serif' font-size="29.3" text-anchor="end" transform="translate(82.6 43.20) scale(0.955 1)">1.06</text>
<rect x="424.0" y="50.3" width="333.05" height="168.7" fill="#fff" stroke="#303030" stroke-width="1.8"/>
<path d="M431.2 79.65H479" stroke="#ff22ff" stroke-width="6.5"/>
<path d="M431.2 134.60H479" stroke="#ff1020" stroke-width="7.5"/>
<path d="M431.2 188.50H479" stroke="#1010ff" stroke-width="6.5"/>
<text font-family='"Liberation Sans",Arial,sans-serif' font-size="29" transform="translate(250.55 757.45) scale(0.9565 0.9902)">10</text>
<text font-family='"Liberation Sans",Arial,sans-serif' font-size="19" transform="translate(280.60 741.40) scale(1.0000 1.0000)">1</text>
<text font-family='"Liberation Sans",Arial,sans-serif' font-size="29" transform="translate(512.13 756.96) scale(0.8765 0.9512)">10</text>
<text font-family='"Liberation Sans",Arial,sans-serif' font-size="19" transform="translate(542.75 741.20) scale(0.9529 0.9509)">2</text>
<text font-family='"Liberation Sans",Arial,sans-serif' font-size="29" transform="translate(774.59 757.16) scale(0.9357 0.9659)">10</text>
<text font-family='"Liberation Sans",Arial,sans-serif' font-size="19" transform="translate(804.65 740.97) scale(1.0000 0.9037)">3</text>
<text font-family='"Liberation Sans",Arial,sans-serif' font-size="34" transform="translate(429.89 779.74) scale(1.0701 1.0343)">r/r</text>
<text font-family='"Liberation Sans",Arial,sans-serif' font-size="24" transform="translate(464.50 783.34) scale(1.0047 0.9915)">g</text>
<text font-family='"Liberation Sans",Arial,sans-serif' font-size="38" transform="translate(1.85 376.10) scale(0.9494 1.0192)">E</text>
<text font-family='"Liberation Serif","Times New Roman",serif' font-size="36" font-style="italic" class="lg" transform="translate(486.14 87.85) scale(1.1843 0.9746)">j</text>
<text font-family='"Liberation Serif","Times New Roman",serif' font-size="25" class="lg" transform="translate(501.15 75.80) scale(1.1500 0.9758)">2</text>
<text font-family='"Liberation Serif","Times New Roman",serif' font-size="36" class="lg" transform="translate(518.90 97.52) scale(1.4400 1.5167)">/</text>
<text font-family='"Liberation Serif","Times New Roman",serif' font-size="36" class="lg" transform="translate(539.20 89.42) scale(0.8649 1.1169)">(</text>
<text font-family='"Liberation Serif","Times New Roman",serif' font-size="36" font-style="italic" class="lg" transform="translate(550.02 88.50) scale(1.1840 0.9471)">r</text>
<text font-family='"Liberation Serif","Times New Roman",serif' font-size="25" font-style="italic" class="lg" transform="translate(569.60 94.53) scale(1.0043 0.9471)">g</text>
<text font-family='"Liberation Serif","Times New Roman",serif' font-size="36" font-style="italic" class="lg" transform="translate(585.41 88.67) scale(0.9931 0.9043)">c</text>
<text font-family='"Liberation Serif","Times New Roman",serif' font-size="36" class="lg" transform="translate(602.11 89.03) scale(0.9514 1.1163)">)</text>
<text font-family='"Liberation Serif","Times New Roman",serif' font-size="25" class="lg" transform="translate(616.57 76.30) scale(1.1300 0.9758)">2</text>
<text font-family='"Liberation Serif","Times New Roman",serif' font-size="36" class="lg" transform="translate(642.89 92.17) scale(1.4328 1.0222)">=</text>
<text font-family='"Liberation Serif","Times New Roman",serif' font-size="36" class="lg" transform="translate(683.06 88.15) scale(1.0242 1.0103)">20</text>
<text font-family='"Liberation Serif","Times New Roman",serif' font-size="36" font-style="italic" class="lg" transform="translate(486.14 143.85) scale(1.1843 0.9746)">j</text>
<text font-family='"Liberation Serif","Times New Roman",serif' font-size="25" class="lg" transform="translate(501.15 131.80) scale(1.1500 0.9758)">2</text>
<text font-family='"Liberation Serif","Times New Roman",serif' font-size="36" class="lg" transform="translate(518.90 153.52) scale(1.4400 1.5167)">/</text>
<text font-family='"Liberation Serif","Times New Roman",serif' font-size="36" class="lg" transform="translate(539.20 145.42) scale(0.8649 1.1169)">(</text>
<text font-family='"Liberation Serif","Times New Roman",serif' font-size="36" font-style="italic" class="lg" transform="translate(550.02 144.50) scale(1.1840 0.9471)">r</text>
<text font-family='"Liberation Serif","Times New Roman",serif' font-size="25" font-style="italic" class="lg" transform="translate(569.60 150.53) scale(1.0043 0.9471)">g</text>
<text font-family='"Liberation Serif","Times New Roman",serif' font-size="36" font-style="italic" class="lg" transform="translate(585.41 144.67) scale(0.9931 0.9043)">c</text>
<text font-family='"Liberation Serif","Times New Roman",serif' font-size="36" class="lg" transform="translate(602.11 145.03) scale(0.9514 1.1163)">)</text>
<text font-family='"Liberation Serif","Times New Roman",serif' font-size="25" class="lg" transform="translate(616.57 132.30) scale(1.1300 0.9758)">2</text>
<text font-family='"Liberation Serif","Times New Roman",serif' font-size="36" class="lg" transform="translate(642.89 148.17) scale(1.4328 1.0222)">=</text>
<text font-family='"Liberation Serif","Times New Roman",serif' font-size="36" class="lg" transform="translate(682.17 143.89) scale(1.0541 1.0227)">15.5</text>
<text font-family='"Liberation Serif","Times New Roman",serif' font-size="36" font-style="italic" class="lg" transform="translate(486.14 198.85) scale(1.1843 0.9746)">j</text>
<text font-family='"Liberation Serif","Times New Roman",serif' font-size="25" class="lg" transform="translate(501.15 186.80) scale(1.1500 0.9758)">2</text>
<text font-family='"Liberation Serif","Times New Roman",serif' font-size="36" class="lg" transform="translate(518.90 208.52) scale(1.4400 1.5167)">/</text>
<text font-family='"Liberation Serif","Times New Roman",serif' font-size="36" class="lg" transform="translate(539.20 200.42) scale(0.8649 1.1169)">(</text>
<text font-family='"Liberation Serif","Times New Roman",serif' font-size="36" font-style="italic" class="lg" transform="translate(550.02 199.50) scale(1.1840 0.9471)">r</text>
<text font-family='"Liberation Serif","Times New Roman",serif' font-size="25" font-style="italic" class="lg" transform="translate(569.60 205.53) scale(1.0043 0.9471)">g</text>
<text font-family='"Liberation Serif","Times New Roman",serif' font-size="36" font-style="italic" class="lg" transform="translate(585.41 199.67) scale(0.9931 0.9043)">c</text>
<text font-family='"Liberation Serif","Times New Roman",serif' font-size="36" class="lg" transform="translate(602.11 200.03) scale(0.9514 1.1163)">)</text>
<text font-family='"Liberation Serif","Times New Roman",serif' font-size="25" class="lg" transform="translate(616.57 187.30) scale(1.1300 0.9758)">2</text>
<text font-family='"Liberation Serif","Times New Roman",serif' font-size="36" class="lg" transform="translate(642.89 203.17) scale(1.4328 1.0222)">=</text>
<text font-family='"Liberation Serif","Times New Roman",serif' font-size="36" class="lg" transform="translate(682.32 199.40) scale(1.0081 1.0232)">12</text>
<g stroke="#000" fill="none" stroke-width="2.3">
<path d="M168 362H558.6"/>
<path d="M256.76 352.6H586" stroke-dasharray="4.5 4.74"/>
<path d="M298.4 464.9H360" stroke-dasharray="4.5 4.7"/>
<path d="M256.4 518.7H318" stroke-dasharray="4.5 4.8"/>
<path d="M326.0 473.6L236.9 593" stroke-dasharray="2.4 2.24"/>
<path d="M159 362.5C139 364.5 119.5 381.1 115.5 395.5" stroke-width="4"/>
<path d="M208.5 609.6C184.5 610.1 155.2 623.0 148.9 644.1" stroke-width="4"/>
</g>
<g fill="#000">
<path d="M246 352.6L256.9 347.2L256.9 358.2Z"/>
<path d="M594.8 352.6L584.1 347.2L584.1 358.2Z"/>
<path d="M292.6 464.9L302.8 459.6L302.8 470.2Z"/>
<path d="M368 464.9L357.3 459.6L357.3 470.2Z"/>
<path d="M250.6 518.7L261.2 513.6L261.2 524.0Z"/>
<path d="M326.2 518.7L315.8 513.6L315.8 524.0Z"/>
<path d="M230.1 601.8L232.2 590.0L240.9 596.4Z"/>
<path d="M111.4 409.4L108.2 393L122.7 397.6Z"/>
<path d="M144.8 657.9L141.7 642.2L156.1 646Z"/>
</g>
<ellipse cx="168.35" cy="362.80" rx="13.4" ry="11.2" fill="url(#sh)"/>
<ellipse cx="168.35" cy="358.30" rx="10.30" ry="11.25" fill="url(#gb)"/>
<ellipse cx="404.20" cy="355.50" rx="13.4" ry="11.2" fill="url(#sh)"/>
<ellipse cx="404.20" cy="351.00" rx="10.30" ry="11.25" fill="url(#gb)"/>
<ellipse cx="328.90" cy="469.20" rx="13.4" ry="11.2" fill="url(#sh)"/>
<ellipse cx="328.90" cy="464.70" rx="10.30" ry="11.25" fill="url(#gg)"/>
<ellipse cx="287.05" cy="524.80" rx="13.4" ry="11.2" fill="url(#sh)"/>
<ellipse cx="287.05" cy="520.30" rx="10.30" ry="11.25" fill="url(#gg)"/>
<ellipse cx="220.05" cy="615.95" rx="13.4" ry="11.2" fill="url(#sh)"/>
<ellipse cx="220.05" cy="611.45" rx="10.30" ry="11.25" fill="url(#gg)"/>
</svg>
</body></html>
